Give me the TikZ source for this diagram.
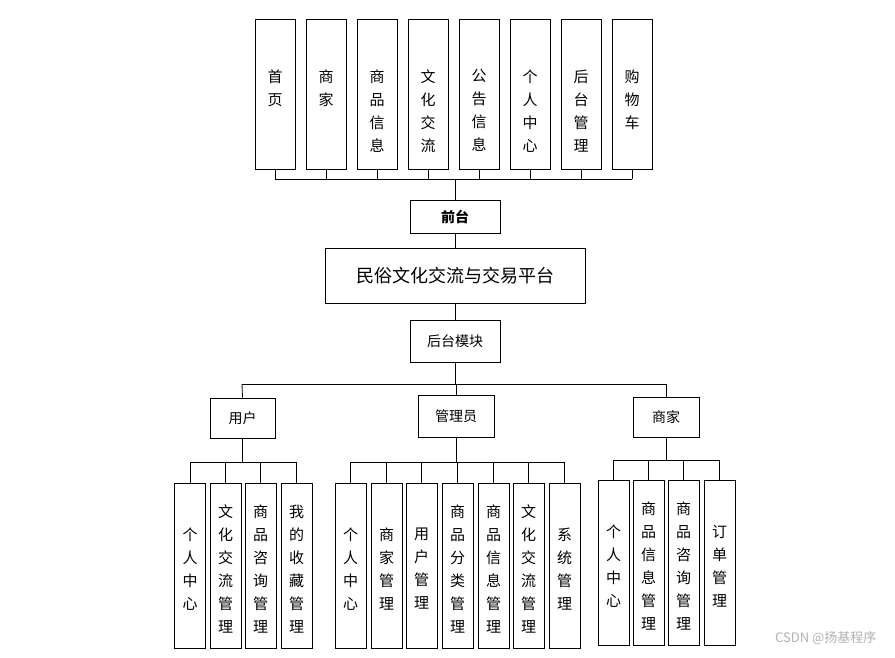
\documentclass[tikz,border=0pt]{standalone}
\usepackage{fontspec}
\newfontfamily\cjk{Noto Sans CJK SC}
\begin{document}
\begin{tikzpicture}[x=1pt,y=-1pt,
  box/.style={draw,line width=0.8pt,inner sep=0pt,font=\cjk\fontsize{15}{23}\selectfont,align=center},
  ln/.style={line width=0.8pt}]
\useasboundingbox[fill=white] (0,0) rectangle (895,657);
% top boxes
\foreach \i/\t in {0/{首\\页},1/{商\\家},2/{商\\品\\信\\息},3/{文\\化\\交\\流},4/{公\\告\\信\\息},5/{个\\人\\中\\心},6/{后\\台\\管\\理},7/{购\\物\\车}}{
  \pgfmathsetmacro\cx{275+51*\i}
  \node[box,minimum width=40pt,minimum height=150pt,anchor=north] (t\i) at (\cx,19) {};
  \node[font=\cjk\fontsize{15}{23}\selectfont,align=center,anchor=north] (tl\i) at (\cx,66) {\t};
  \draw[ln] (t\i.south) -- (\cx,179);
}
\draw[ln] (275,179) -- (632,179);
\node[box,minimum width=90pt,minimum height=33pt,font=\cjk\bfseries\fontsize{14}{16}\selectfont] (qt) at (455,216.5) {前台};
\node[box,minimum width=260pt,minimum height=55pt,font=\cjk\fontsize{18}{20}\selectfont] (main) at (455,275.5) {民俗文化交流与交易平台};
\node[box,minimum width=90pt,minimum height=42pt,font=\cjk\fontsize{14}{16}\selectfont] (ht) at (455,341) {后台模块};
\draw[ln] (455,179) -- (qt.north);
\draw[ln] (qt) -- (main);
\draw[ln] (main) -- (ht);
\draw[ln] (ht.south) -- (455,384);
\draw[ln] (242,384) -- (666,384);
\node[box,minimum width=65pt,minimum height=40pt,font=\cjk\fontsize{14}{16}\selectfont] (yh) at (242.5,418) {用户};
\node[box,minimum width=76pt,minimum height=42pt,font=\cjk\fontsize{14}{16}\selectfont] (gly) at (456,416) {管理员};
\node[box,minimum width=66pt,minimum height=40pt,font=\cjk\fontsize{14}{16}\selectfont] (sj) at (666,417) {商家};
\draw[ln] (242,384) -- (yh.north);
\draw[ln] (456,384) -- (gly.north);
\draw[ln] (666,384) -- (sj.north);
% children
\newcommand\kids[5]{% prefix, parent, busy, top, list
  \foreach \cx/\t [count=\k] in {#5}{
    \node[box,minimum width=31pt,minimum height=165pt,anchor=north] (#1\k) at (\cx,#4) {};
    \node[font=\cjk\fontsize{15}{23}\selectfont,align=center] (#1l\k) at (\cx,#4+86) {\t};
    \draw[ln] (\cx,#3) -- (#1\k.north);
  }
}
\kids{u}{yh}{462}{483}{190/{个\\人\\中\\心},225.5/{文\\化\\交\\流\\管\\理},260.5/{商\\品\\咨\\询\\管\\理},296.5/{我\\的\\收\\藏\\管\\理}}
\draw[ln] (190,462) -- (296.5,462); \draw[ln] (yh.south) -- (242.5,462);
\kids{a}{gly}{462}{483}{350.5/{个\\人\\中\\心},386.5/{商\\家\\管\\理},421.5/{用\\户\\管\\理},457.5/{商\\品\\分\\类\\管\\理},493.5/{商\\品\\信\\息\\管\\理},528.5/{文\\化\\交\\流\\管\\理},564.5/{系\\统\\管\\理}}
\draw[ln] (350.5,462) -- (564.5,462); \draw[ln] (gly.south) -- (456,462);
\kids{s}{sj}{460}{480}{613.5/{个\\人\\中\\心},648.5/{商\\品\\信\\息\\管\\理},683.5/{商\\品\\咨\\询\\管\\理},719.5/{订\\单\\管\\理}}
\draw[ln] (613.5,460) -- (719.5,460); \draw[ln] (sj.south) -- (666,460);
\node[font=\cjk\fontsize{13}{15}\selectfont,text=gray!60,anchor=east] (wm) at (880,638) {CSDN @扬基程序};
\end{tikzpicture}
\end{document}
